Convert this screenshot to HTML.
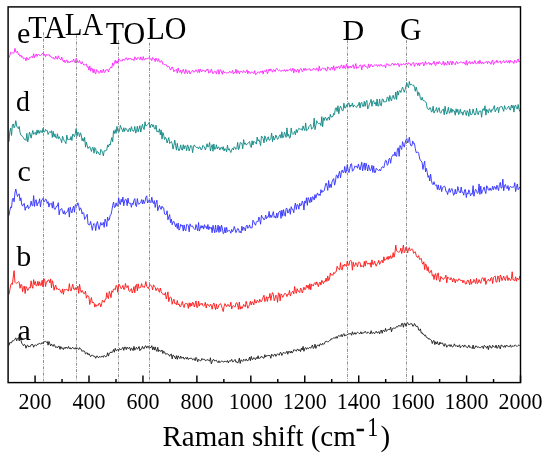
<!DOCTYPE html>
<html><head><meta charset="utf-8"><style>
html,body{margin:0;padding:0;background:#fff;}
svg{display:block;}
text{font-family:"Liberation Serif","Times New Roman",serif;fill:#000;}
</style></head><body>
<svg width="550" height="455" viewBox="0 0 550 455">
<rect width="550" height="455" fill="#fff"/>
<g stroke="#909090" stroke-width="1" stroke-dasharray="3 1.2 0.8 1.3">
<line x1="43.5" y1="32.4" x2="43.5" y2="381.5"/>
<line x1="76.5" y1="35.2" x2="76.5" y2="381.5"/>
<line x1="118.5" y1="40.3" x2="118.5" y2="381.5"/>
<line x1="149.5" y1="42.7" x2="149.5" y2="381.5"/>
<line x1="347.5" y1="40.2" x2="347.5" y2="381.5"/>
<line x1="406.5" y1="40.2" x2="406.5" y2="381.5"/>
</g>
<g font-size="30">
<text x="17" y="42.5">e</text>
<text transform="translate(28.3,37.6) scale(1,1.045)">TA</text>
<text transform="translate(64.7,34.5) scale(0.965,1.045)">LA</text>
<text transform="translate(105.8,43.5) scale(1,1.035)">TO</text>
<text transform="translate(146.5,38.6) scale(1,1.045)">LO</text>
<text x="342.6" y="40">D</text>
<text transform="translate(400,40.2) scale(1,1.04)">G</text>
<text transform="translate(16,111) scale(0.93,1)">d</text>
<text x="17.6" y="181">c</text>
<text x="16.3" y="266.3">b</text>
<text x="17.6" y="339.6">a</text>
</g>
<path d="M9.00,57.67 L9.85,55.48 L10.70,52.17 L11.55,52.98 L12.40,52.89 L13.25,53.24 L14.10,52.79 L14.95,48.29 L15.80,52.00 L16.65,52.53 L17.50,51.23 L18.35,54.56 L19.20,54.08 L20.05,56.38 L20.90,55.04 L21.75,57.32 L22.60,56.71 L23.45,58.80 L24.30,58.44 L25.15,58.02 L26.00,60.81 L26.85,57.40 L27.70,58.93 L28.55,59.82 L29.40,57.54 L30.25,57.30 L31.10,57.33 L31.95,56.24 L32.80,57.80 L33.65,53.73 L34.50,57.77 L35.35,55.95 L36.20,53.88 L37.05,56.42 L37.90,54.79 L38.75,54.29 L39.60,55.55 L40.45,55.50 L41.30,54.85 L42.15,53.59 L43.00,53.58 L43.85,55.53 L44.70,54.18 L45.55,56.76 L46.40,54.62 L47.25,54.84 L48.10,55.38 L48.95,54.41 L49.80,56.38 L50.65,55.94 L51.50,57.42 L52.35,58.23 L53.20,57.19 L54.05,59.01 L54.90,59.08 L55.75,56.13 L56.60,58.52 L57.45,59.16 L58.30,55.76 L59.15,58.12 L60.00,58.87 L60.85,59.89 L61.70,57.06 L62.55,59.73 L63.40,61.72 L64.25,60.05 L65.10,62.73 L65.95,61.03 L66.80,59.79 L67.65,62.68 L68.50,61.36 L69.35,63.00 L70.20,62.01 L71.05,60.83 L71.90,61.46 L72.75,61.36 L73.60,59.05 L74.45,61.46 L75.30,62.94 L76.15,58.27 L77.00,59.96 L77.85,62.49 L78.70,62.32 L79.55,60.43 L80.40,62.68 L81.25,64.04 L82.10,61.68 L82.95,63.50 L83.80,65.12 L84.65,64.88 L85.50,64.71 L86.35,64.03 L87.20,67.14 L88.05,66.47 L88.90,70.05 L89.75,65.91 L90.60,71.24 L91.45,67.92 L92.30,68.53 L93.15,72.77 L94.00,69.12 L94.85,72.57 L95.70,74.04 L96.55,69.59 L97.40,71.28 L98.25,71.18 L99.10,73.38 L99.95,72.54 L100.80,70.02 L101.65,72.54 L102.50,72.41 L103.35,69.18 L104.20,72.43 L105.05,72.17 L105.90,69.73 L106.75,69.82 L107.60,69.55 L108.45,72.00 L109.30,68.87 L110.15,68.48 L111.00,66.85 L111.85,67.84 L112.70,62.90 L113.55,65.60 L114.40,63.11 L115.25,60.24 L116.10,63.41 L116.95,60.88 L117.80,63.30 L118.65,58.67 L119.50,60.14 L120.35,60.75 L121.20,60.43 L122.05,61.25 L122.90,58.93 L123.75,59.77 L124.60,60.30 L125.45,58.37 L126.30,57.64 L127.15,59.75 L128.00,59.96 L128.85,58.13 L129.70,59.09 L130.55,58.05 L131.40,59.66 L132.25,59.68 L133.10,59.03 L133.95,60.63 L134.80,56.83 L135.65,57.78 L136.50,59.85 L137.35,57.86 L138.20,57.49 L139.05,58.32 L139.90,59.75 L140.75,56.86 L141.60,59.60 L142.45,60.11 L143.30,56.57 L144.15,59.67 L145.00,59.69 L145.85,58.15 L146.70,58.74 L147.55,58.94 L148.40,57.75 L149.25,58.78 L150.10,59.22 L150.95,58.68 L151.80,60.62 L152.65,57.50 L153.50,58.93 L154.35,59.00 L155.20,61.61 L156.05,58.03 L156.90,60.07 L157.75,61.40 L158.60,58.79 L159.45,61.84 L160.30,62.36 L161.15,60.65 L162.00,61.18 L162.85,64.36 L163.70,63.77 L164.55,64.73 L165.40,64.56 L166.25,64.71 L167.10,66.66 L167.95,66.76 L168.80,66.29 L169.65,67.95 L170.50,70.12 L171.35,67.96 L172.20,66.89 L173.05,68.93 L173.90,71.76 L174.75,70.21 L175.60,70.14 L176.45,69.27 L177.30,73.15 L178.15,67.97 L179.00,71.48 L179.85,72.24 L180.70,70.02 L181.55,73.50 L182.40,71.26 L183.25,69.25 L184.10,72.00 L184.95,73.71 L185.80,69.41 L186.65,71.73 L187.50,73.63 L188.35,71.04 L189.20,70.63 L190.05,74.00 L190.90,72.30 L191.75,71.43 L192.60,70.14 L193.45,71.89 L194.30,72.20 L195.15,70.83 L196.00,69.67 L196.85,71.61 L197.70,72.41 L198.55,69.42 L199.40,72.62 L200.25,68.99 L201.10,71.30 L201.95,71.70 L202.80,70.08 L203.65,70.60 L204.50,70.72 L205.35,72.10 L206.20,69.67 L207.05,70.45 L207.90,68.96 L208.75,73.23 L209.60,71.73 L210.45,72.16 L211.30,69.07 L212.15,71.29 L213.00,73.80 L213.85,72.51 L214.70,71.24 L215.55,71.61 L216.40,73.96 L217.25,70.36 L218.10,69.53 L218.95,74.28 L219.80,70.94 L220.65,69.59 L221.50,72.00 L222.35,74.32 L223.20,70.59 L224.05,72.61 L224.90,72.30 L225.75,72.44 L226.60,73.09 L227.45,72.84 L228.30,72.98 L229.15,71.92 L230.00,71.24 L230.85,72.74 L231.70,72.50 L232.55,70.43 L233.40,74.08 L234.25,72.41 L235.10,72.89 L235.95,69.21 L236.80,73.48 L237.65,70.58 L238.50,71.00 L239.35,73.96 L240.20,71.46 L241.05,71.29 L241.90,71.44 L242.75,72.66 L243.60,70.50 L244.45,71.51 L245.30,72.82 L246.15,71.88 L247.00,69.77 L247.85,73.95 L248.70,71.05 L249.55,72.21 L250.40,73.45 L251.25,72.07 L252.10,72.10 L252.95,72.48 L253.80,73.59 L254.65,70.56 L255.50,74.65 L256.35,74.27 L257.20,72.82 L258.05,71.69 L258.90,72.76 L259.75,73.12 L260.60,71.13 L261.45,72.44 L262.30,70.78 L263.15,74.05 L264.00,70.49 L264.85,71.09 L265.70,71.88 L266.55,69.54 L267.40,73.85 L268.25,71.68 L269.10,68.90 L269.95,71.14 L270.80,68.94 L271.65,70.51 L272.50,72.19 L273.35,69.50 L274.20,70.02 L275.05,71.68 L275.90,69.35 L276.75,68.31 L277.60,69.85 L278.45,70.69 L279.30,70.03 L280.15,70.39 L281.00,71.60 L281.85,70.28 L282.70,70.49 L283.55,71.07 L284.40,69.56 L285.25,71.36 L286.10,71.13 L286.95,69.56 L287.80,71.17 L288.65,70.34 L289.50,69.28 L290.35,68.62 L291.20,71.15 L292.05,70.66 L292.90,68.10 L293.75,72.92 L294.60,69.10 L295.45,70.12 L296.30,72.11 L297.15,69.69 L298.00,69.34 L298.85,72.71 L299.70,70.00 L300.55,68.57 L301.40,69.04 L302.25,71.79 L303.10,70.67 L303.95,68.37 L304.80,70.52 L305.65,68.45 L306.50,70.24 L307.35,69.80 L308.20,68.96 L309.05,69.29 L309.90,68.64 L310.75,70.88 L311.60,69.89 L312.45,70.12 L313.30,68.49 L314.15,68.78 L315.00,69.19 L315.85,70.29 L316.70,68.05 L317.55,68.85 L318.40,71.24 L319.25,66.08 L320.10,70.15 L320.95,70.42 L321.80,68.63 L322.65,67.94 L323.50,68.98 L324.35,69.21 L325.20,68.10 L326.05,70.88 L326.90,70.76 L327.75,66.82 L328.60,67.75 L329.45,69.18 L330.30,70.21 L331.15,67.76 L332.00,67.12 L332.85,69.50 L333.70,65.79 L334.55,70.58 L335.40,68.43 L336.25,66.67 L337.10,68.34 L337.95,67.00 L338.80,66.45 L339.65,68.69 L340.50,67.30 L341.35,64.86 L342.20,66.54 L343.05,68.48 L343.90,65.25 L344.75,68.03 L345.60,68.70 L346.45,63.94 L347.30,67.03 L348.15,68.42 L349.00,66.11 L349.85,67.70 L350.70,66.05 L351.55,67.88 L352.40,65.48 L353.25,64.68 L354.10,68.67 L354.95,66.71 L355.80,63.57 L356.65,68.56 L357.50,67.26 L358.35,67.85 L359.20,66.42 L360.05,64.85 L360.90,65.31 L361.75,69.91 L362.60,65.44 L363.45,66.27 L364.30,64.49 L365.15,66.51 L366.00,66.20 L366.85,67.55 L367.70,68.28 L368.55,63.90 L369.40,67.82 L370.25,66.07 L371.10,64.25 L371.95,65.48 L372.80,67.01 L373.65,65.75 L374.50,64.76 L375.35,65.45 L376.20,64.53 L377.05,66.02 L377.90,66.24 L378.75,64.70 L379.60,66.29 L380.45,64.52 L381.30,64.63 L382.15,66.20 L383.00,65.92 L383.85,65.39 L384.70,65.22 L385.55,67.96 L386.40,63.73 L387.25,64.35 L388.10,64.13 L388.95,65.80 L389.80,64.96 L390.65,65.52 L391.50,64.80 L392.35,63.02 L393.20,64.05 L394.05,65.37 L394.90,63.55 L395.75,64.27 L396.60,64.89 L397.45,63.48 L398.30,63.51 L399.15,66.70 L400.00,64.78 L400.85,63.69 L401.70,65.31 L402.55,64.46 L403.40,63.67 L404.25,64.03 L405.10,64.97 L405.95,63.15 L406.80,63.29 L407.65,64.55 L408.50,62.69 L409.35,63.80 L410.20,63.62 L411.05,65.79 L411.90,63.98 L412.75,62.83 L413.60,62.34 L414.45,66.46 L415.30,64.25 L416.15,63.14 L417.00,63.38 L417.85,65.43 L418.70,62.91 L419.55,65.83 L420.40,63.00 L421.25,63.78 L422.10,62.59 L422.95,62.63 L423.80,65.97 L424.65,64.13 L425.50,61.32 L426.35,64.08 L427.20,63.85 L428.05,63.44 L428.90,62.27 L429.75,64.63 L430.60,63.05 L431.45,65.26 L432.30,63.16 L433.15,63.37 L434.00,61.21 L434.85,64.68 L435.70,65.67 L436.55,62.21 L437.40,62.11 L438.25,64.02 L439.10,61.33 L439.95,62.81 L440.80,63.43 L441.65,64.81 L442.50,63.47 L443.35,61.25 L444.20,65.43 L445.05,62.47 L445.90,64.24 L446.75,65.18 L447.60,61.00 L448.45,62.64 L449.30,64.95 L450.15,61.39 L451.00,61.48 L451.85,64.96 L452.70,61.15 L453.55,63.14 L454.40,63.73 L455.25,64.74 L456.10,61.98 L456.95,61.57 L457.80,63.72 L458.65,62.89 L459.50,62.50 L460.35,62.39 L461.20,61.67 L462.05,62.85 L462.90,63.06 L463.75,61.82 L464.60,63.93 L465.45,64.70 L466.30,60.46 L467.15,65.25 L468.00,62.67 L468.85,62.97 L469.70,61.39 L470.55,64.10 L471.40,62.27 L472.25,61.91 L473.10,63.97 L473.95,63.12 L474.80,60.48 L475.65,63.40 L476.50,64.00 L477.35,62.86 L478.20,61.24 L479.05,63.79 L479.90,60.19 L480.75,63.24 L481.60,63.88 L482.45,61.86 L483.30,63.65 L484.15,63.13 L485.00,62.42 L485.85,62.07 L486.70,61.45 L487.55,63.68 L488.40,61.29 L489.25,62.32 L490.10,62.31 L490.95,64.34 L491.80,61.20 L492.65,59.93 L493.50,64.71 L494.35,63.27 L495.20,61.50 L496.05,62.52 L496.90,60.09 L497.75,62.83 L498.60,62.01 L499.45,61.51 L500.30,60.91 L501.15,63.65 L502.00,62.27 L502.85,61.48 L503.70,60.65 L504.55,63.01 L505.40,61.71 L506.25,60.50 L507.10,62.29 L507.95,62.64 L508.80,60.45 L509.65,63.19 L510.50,60.18 L511.35,61.98 L512.20,61.86 L513.05,61.73 L513.90,63.46 L514.75,60.16 L515.60,61.24 L516.45,62.65 L517.30,60.20 L518.15,58.92 L519.00,62.06 L519.85,61.29" fill="none" stroke="#ff2bff" stroke-width="0.95" stroke-linejoin="round"/>
<path d="M9.00,141.73 L9.85,131.37 L10.70,128.00 L11.55,135.46 L12.40,125.11 L13.25,123.93 L14.10,127.82 L14.95,125.97 L15.80,120.66 L16.65,126.06 L17.50,127.65 L18.35,128.68 L19.20,126.37 L20.05,132.58 L20.90,135.16 L21.75,135.59 L22.60,136.75 L23.45,137.64 L24.30,139.51 L25.15,139.40 L26.00,140.49 L26.85,133.36 L27.70,141.88 L28.55,138.33 L29.40,132.09 L30.25,134.16 L31.10,138.15 L31.95,134.07 L32.80,130.46 L33.65,134.36 L34.50,132.90 L35.35,132.27 L36.20,135.07 L37.05,129.94 L37.90,133.48 L38.75,130.32 L39.60,133.31 L40.45,130.77 L41.30,130.84 L42.15,132.78 L43.00,128.32 L43.85,132.12 L44.70,131.88 L45.55,129.36 L46.40,130.80 L47.25,130.63 L48.10,134.48 L48.95,132.72 L49.80,131.56 L50.65,132.54 L51.50,130.66 L52.35,137.44 L53.20,131.26 L54.05,136.88 L54.90,133.77 L55.75,137.69 L56.60,138.21 L57.45,133.78 L58.30,138.86 L59.15,136.70 L60.00,138.68 L60.85,139.40 L61.70,142.66 L62.55,136.22 L63.40,138.61 L64.25,140.93 L65.10,141.87 L65.95,143.65 L66.80,135.10 L67.65,139.62 L68.50,139.57 L69.35,138.90 L70.20,139.91 L71.05,136.51 L71.90,140.50 L72.75,133.96 L73.60,135.06 L74.45,136.74 L75.30,133.63 L76.15,128.55 L77.00,136.27 L77.85,132.06 L78.70,132.90 L79.55,136.76 L80.40,132.82 L81.25,135.14 L82.10,140.80 L82.95,138.26 L83.80,141.35 L84.65,137.32 L85.50,147.18 L86.35,142.13 L87.20,145.37 L88.05,148.57 L88.90,147.13 L89.75,146.59 L90.60,149.18 L91.45,151.47 L92.30,147.60 L93.15,147.34 L94.00,153.19 L94.85,147.62 L95.70,148.60 L96.55,153.93 L97.40,151.50 L98.25,152.07 L99.10,154.13 L99.95,155.09 L100.80,149.35 L101.65,150.31 L102.50,152.42 L103.35,155.93 L104.20,150.83 L105.05,150.76 L105.90,150.65 L106.75,150.08 L107.60,144.92 L108.45,146.96 L109.30,143.98 L110.15,145.18 L111.00,140.88 L111.85,137.55 L112.70,141.81 L113.55,130.72 L114.40,133.50 L115.25,129.72 L116.10,133.38 L116.95,126.35 L117.80,130.95 L118.65,132.50 L119.50,130.80 L120.35,125.32 L121.20,127.75 L122.05,129.62 L122.90,131.87 L123.75,127.79 L124.60,131.46 L125.45,128.21 L126.30,128.66 L127.15,130.28 L128.00,131.85 L128.85,129.30 L129.70,128.05 L130.55,131.50 L131.40,126.67 L132.25,129.65 L133.10,131.28 L133.95,130.98 L134.80,126.43 L135.65,133.09 L136.50,131.44 L137.35,126.15 L138.20,131.87 L139.05,128.91 L139.90,125.57 L140.75,132.10 L141.60,127.88 L142.45,124.26 L143.30,128.12 L144.15,129.64 L145.00,121.78 L145.85,126.08 L146.70,125.63 L147.55,124.56 L148.40,124.04 L149.25,122.33 L150.10,127.75 L150.95,125.10 L151.80,124.02 L152.65,126.80 L153.50,124.84 L154.35,128.70 L155.20,129.20 L156.05,125.16 L156.90,131.89 L157.75,131.20 L158.60,132.24 L159.45,128.82 L160.30,134.83 L161.15,129.85 L162.00,139.18 L162.85,132.41 L163.70,135.28 L164.55,139.59 L165.40,137.22 L166.25,138.92 L167.10,143.00 L167.95,140.12 L168.80,137.59 L169.65,143.52 L170.50,142.45 L171.35,141.47 L172.20,143.69 L173.05,149.08 L173.90,145.41 L174.75,140.16 L175.60,145.23 L176.45,150.08 L177.30,143.27 L178.15,148.59 L179.00,150.86 L179.85,148.96 L180.70,144.89 L181.55,149.63 L182.40,150.09 L183.25,144.69 L184.10,148.96 L184.95,145.64 L185.80,146.15 L186.65,150.82 L187.50,144.86 L188.35,146.47 L189.20,150.93 L190.05,147.76 L190.90,145.39 L191.75,146.42 L192.60,152.69 L193.45,147.00 L194.30,144.92 L195.15,146.31 L196.00,147.03 L196.85,147.66 L197.70,147.31 L198.55,149.06 L199.40,146.81 L200.25,147.25 L201.10,150.03 L201.95,149.15 L202.80,145.33 L203.65,146.06 L204.50,147.03 L205.35,150.03 L206.20,147.35 L207.05,143.73 L207.90,147.10 L208.75,146.48 L209.60,142.41 L210.45,151.06 L211.30,147.28 L212.15,144.61 L213.00,151.28 L213.85,143.95 L214.70,149.50 L215.55,148.81 L216.40,144.78 L217.25,148.81 L218.10,147.05 L218.95,147.18 L219.80,150.04 L220.65,148.00 L221.50,147.05 L222.35,149.38 L223.20,146.64 L224.05,151.03 L224.90,148.50 L225.75,149.28 L226.60,151.87 L227.45,145.18 L228.30,150.14 L229.15,148.65 L230.00,150.92 L230.85,152.50 L231.70,149.48 L232.55,148.18 L233.40,149.99 L234.25,146.77 L235.10,147.64 L235.95,149.43 L236.80,148.55 L237.65,142.37 L238.50,149.66 L239.35,147.94 L240.20,142.59 L241.05,143.05 L241.90,143.35 L242.75,148.86 L243.60,139.57 L244.45,144.33 L245.30,142.92 L246.15,144.91 L247.00,144.09 L247.85,143.59 L248.70,142.67 L249.55,141.60 L250.40,145.73 L251.25,147.54 L252.10,140.74 L252.95,145.05 L253.80,141.26 L254.65,142.19 L255.50,142.52 L256.35,144.11 L257.20,137.01 L258.05,141.14 L258.90,139.63 L259.75,142.27 L260.60,145.60 L261.45,136.02 L262.30,137.10 L263.15,138.54 L264.00,142.97 L264.85,135.86 L265.70,138.23 L266.55,141.47 L267.40,138.22 L268.25,136.75 L269.10,140.15 L269.95,139.92 L270.80,138.46 L271.65,133.05 L272.50,141.73 L273.35,135.94 L274.20,140.03 L275.05,138.26 L275.90,135.02 L276.75,137.35 L277.60,139.43 L278.45,138.22 L279.30,135.80 L280.15,134.60 L281.00,138.15 L281.85,131.77 L282.70,137.80 L283.55,137.16 L284.40,132.21 L285.25,134.25 L286.10,137.43 L286.95,127.87 L287.80,136.24 L288.65,134.31 L289.50,138.19 L290.35,137.46 L291.20,127.94 L292.05,133.41 L292.90,134.56 L293.75,133.71 L294.60,131.33 L295.45,134.86 L296.30,129.52 L297.15,132.60 L298.00,129.85 L298.85,128.26 L299.70,128.98 L300.55,129.15 L301.40,128.83 L302.25,130.37 L303.10,125.92 L303.95,128.88 L304.80,130.57 L305.65,122.91 L306.50,130.73 L307.35,129.90 L308.20,129.24 L309.05,126.37 L309.90,125.26 L310.75,124.44 L311.60,129.27 L312.45,128.06 L313.30,127.15 L314.15,118.13 L315.00,129.65 L315.85,125.49 L316.70,120.75 L317.55,122.72 L318.40,123.53 L319.25,123.40 L320.10,123.20 L320.95,125.62 L321.80,116.66 L322.65,126.82 L323.50,117.82 L324.35,120.45 L325.20,117.22 L326.05,118.31 L326.90,120.55 L327.75,118.12 L328.60,116.96 L329.45,120.14 L330.30,114.33 L331.15,117.19 L332.00,116.39 L332.85,116.75 L333.70,113.25 L334.55,114.56 L335.40,108.18 L336.25,107.73 L337.10,111.57 L337.95,105.77 L338.80,113.80 L339.65,108.39 L340.50,106.12 L341.35,108.12 L342.20,110.52 L343.05,110.89 L343.90,103.18 L344.75,107.97 L345.60,107.96 L346.45,104.77 L347.30,106.76 L348.15,103.21 L349.00,102.85 L349.85,107.25 L350.70,105.01 L351.55,106.10 L352.40,102.95 L353.25,107.19 L354.10,105.09 L354.95,105.67 L355.80,106.74 L356.65,107.45 L357.50,105.27 L358.35,105.46 L359.20,102.18 L360.05,108.10 L360.90,103.07 L361.75,102.38 L362.60,106.31 L363.45,106.48 L364.30,101.40 L365.15,106.36 L366.00,102.03 L366.85,100.37 L367.70,109.00 L368.55,107.54 L369.40,103.99 L370.25,102.36 L371.10,99.30 L371.95,106.37 L372.80,101.32 L373.65,100.70 L374.50,103.92 L375.35,102.56 L376.20,106.01 L377.05,98.98 L377.90,106.15 L378.75,105.84 L379.60,99.23 L380.45,105.12 L381.30,105.89 L382.15,99.27 L383.00,99.04 L383.85,102.08 L384.70,101.80 L385.55,101.68 L386.40,101.58 L387.25,97.11 L388.10,97.31 L388.95,101.45 L389.80,95.44 L390.65,98.91 L391.50,100.97 L392.35,96.67 L393.20,95.24 L394.05,98.83 L394.90,98.92 L395.75,92.12 L396.60,99.53 L397.45,90.85 L398.30,95.13 L399.15,91.33 L400.00,90.52 L400.85,92.55 L401.70,89.38 L402.55,87.08 L403.40,89.43 L404.25,92.28 L405.10,89.67 L405.95,86.10 L406.80,82.70 L407.65,85.77 L408.50,87.66 L409.35,81.45 L410.20,85.07 L411.05,84.27 L411.90,84.49 L412.75,85.49 L413.60,85.03 L414.45,87.14 L415.30,91.29 L416.15,87.04 L417.00,90.24 L417.85,95.76 L418.70,92.27 L419.55,94.07 L420.40,98.60 L421.25,100.14 L422.10,97.29 L422.95,100.35 L423.80,100.67 L424.65,100.88 L425.50,101.76 L426.35,103.10 L427.20,108.41 L428.05,109.05 L428.90,109.72 L429.75,107.62 L430.60,108.01 L431.45,112.16 L432.30,111.07 L433.15,106.17 L434.00,113.13 L434.85,111.03 L435.70,109.88 L436.55,107.50 L437.40,112.37 L438.25,109.28 L439.10,107.65 L439.95,112.25 L440.80,113.23 L441.65,111.21 L442.50,109.66 L443.35,108.99 L444.20,114.79 L445.05,106.19 L445.90,111.71 L446.75,114.18 L447.60,110.87 L448.45,107.30 L449.30,113.27 L450.15,112.63 L451.00,108.36 L451.85,112.52 L452.70,109.22 L453.55,111.19 L454.40,111.09 L455.25,115.26 L456.10,108.82 L456.95,112.42 L457.80,109.33 L458.65,114.59 L459.50,112.50 L460.35,109.20 L461.20,113.33 L462.05,112.11 L462.90,115.20 L463.75,111.76 L464.60,110.10 L465.45,112.63 L466.30,115.43 L467.15,110.60 L468.00,112.29 L468.85,116.36 L469.70,108.84 L470.55,114.06 L471.40,115.09 L472.25,113.42 L473.10,108.92 L473.95,112.89 L474.80,115.00 L475.65,114.51 L476.50,108.26 L477.35,112.52 L478.20,114.66 L479.05,111.27 L479.90,111.21 L480.75,110.93 L481.60,117.29 L482.45,109.94 L483.30,108.56 L484.15,110.68 L485.00,105.78 L485.85,115.20 L486.70,109.26 L487.55,110.91 L488.40,113.04 L489.25,108.74 L490.10,110.07 L490.95,112.39 L491.80,109.62 L492.65,110.19 L493.50,107.87 L494.35,105.65 L495.20,111.91 L496.05,110.11 L496.90,108.14 L497.75,107.09 L498.60,112.78 L499.45,107.36 L500.30,106.98 L501.15,106.72 L502.00,106.50 L502.85,109.15 L503.70,111.35 L504.55,105.68 L505.40,108.38 L506.25,109.51 L507.10,108.58 L507.95,107.24 L508.80,106.13 L509.65,109.46 L510.50,110.00 L511.35,105.08 L512.20,108.01 L513.05,105.30 L513.90,112.12 L514.75,105.99 L515.60,104.94 L516.45,108.38 L517.30,109.03 L518.15,104.48 L519.00,109.24 L519.85,111.51" fill="none" stroke="#138a86" stroke-width="0.95" stroke-linejoin="round"/>
<path d="M9.00,215.50 L9.85,210.42 L10.70,206.83 L11.55,207.74 L12.40,199.07 L13.25,198.05 L14.10,201.81 L14.95,192.89 L15.80,189.00 L16.65,193.46 L17.50,196.53 L18.35,194.37 L19.20,193.82 L20.05,200.80 L20.90,197.77 L21.75,204.82 L22.60,206.14 L23.45,204.00 L24.30,203.39 L25.15,210.33 L26.00,206.93 L26.85,207.39 L27.70,204.98 L28.55,208.70 L29.40,207.35 L30.25,206.28 L31.10,201.08 L31.95,205.28 L32.80,205.86 L33.65,195.59 L34.50,206.47 L35.35,200.29 L36.20,199.71 L37.05,205.96 L37.90,202.77 L38.75,202.94 L39.60,198.78 L40.45,206.90 L41.30,201.01 L42.15,199.78 L43.00,198.27 L43.85,202.03 L44.70,201.05 L45.55,199.09 L46.40,199.66 L47.25,203.42 L48.10,201.65 L48.95,207.08 L49.80,203.33 L50.65,203.90 L51.50,203.23 L52.35,208.14 L53.20,201.53 L54.05,208.14 L54.90,209.58 L55.75,208.05 L56.60,205.99 L57.45,206.07 L58.30,202.71 L59.15,214.86 L60.00,209.80 L60.85,209.47 L61.70,208.42 L62.55,211.57 L63.40,213.88 L64.25,210.69 L65.10,214.42 L65.95,212.52 L66.80,212.19 L67.65,211.25 L68.50,207.85 L69.35,217.09 L70.20,207.14 L71.05,210.78 L71.90,212.98 L72.75,208.52 L73.60,206.08 L74.45,212.22 L75.30,204.73 L76.15,204.80 L77.00,205.86 L77.85,202.78 L78.70,205.43 L79.55,210.42 L80.40,207.82 L81.25,209.24 L82.10,214.05 L82.95,212.30 L83.80,213.46 L84.65,219.38 L85.50,217.77 L86.35,216.25 L87.20,214.31 L88.05,224.19 L88.90,224.75 L89.75,225.03 L90.60,221.43 L91.45,225.44 L92.30,230.37 L93.15,225.36 L94.00,223.43 L94.85,224.43 L95.70,230.61 L96.55,224.16 L97.40,221.59 L98.25,225.47 L99.10,229.46 L99.95,226.05 L100.80,222.45 L101.65,225.04 L102.50,224.75 L103.35,222.35 L104.20,227.36 L105.05,219.07 L105.90,221.29 L106.75,226.47 L107.60,217.04 L108.45,220.43 L109.30,219.87 L110.15,215.22 L111.00,214.70 L111.85,210.47 L112.70,205.46 L113.55,201.99 L114.40,207.53 L115.25,207.04 L116.10,202.89 L116.95,205.94 L117.80,205.80 L118.65,197.75 L119.50,203.05 L120.35,204.57 L121.20,199.26 L122.05,202.16 L122.90,197.04 L123.75,205.78 L124.60,201.07 L125.45,199.20 L126.30,199.76 L127.15,205.70 L128.00,198.02 L128.85,203.21 L129.70,203.37 L130.55,203.27 L131.40,207.30 L132.25,202.95 L133.10,204.53 L133.95,200.20 L134.80,198.61 L135.65,205.00 L136.50,206.55 L137.35,198.58 L138.20,203.81 L139.05,204.28 L139.90,203.03 L140.75,202.42 L141.60,199.57 L142.45,204.03 L143.30,199.86 L144.15,203.67 L145.00,201.60 L145.85,197.32 L146.70,195.82 L147.55,203.06 L148.40,201.61 L149.25,199.58 L150.10,201.62 L150.95,202.71 L151.80,197.15 L152.65,201.99 L153.50,203.59 L154.35,200.60 L155.20,207.46 L156.05,202.89 L156.90,200.16 L157.75,210.78 L158.60,207.82 L159.45,205.29 L160.30,207.93 L161.15,209.44 L162.00,206.16 L162.85,207.87 L163.70,207.90 L164.55,214.00 L165.40,214.53 L166.25,214.45 L167.10,210.81 L167.95,219.80 L168.80,216.85 L169.65,214.56 L170.50,222.66 L171.35,219.01 L172.20,224.81 L173.05,221.87 L173.90,221.48 L174.75,223.93 L175.60,226.78 L176.45,223.70 L177.30,228.51 L178.15,223.00 L179.00,230.13 L179.85,228.47 L180.70,224.32 L181.55,226.14 L182.40,225.14 L183.25,231.09 L184.10,224.88 L184.95,229.50 L185.80,230.80 L186.65,224.38 L187.50,224.69 L188.35,225.70 L189.20,231.77 L190.05,223.82 L190.90,226.21 L191.75,226.29 L192.60,225.95 L193.45,228.11 L194.30,228.73 L195.15,229.78 L196.00,224.56 L196.85,227.64 L197.70,230.81 L198.55,222.48 L199.40,231.07 L200.25,228.50 L201.10,225.53 L201.95,228.13 L202.80,225.81 L203.65,229.10 L204.50,224.69 L205.35,227.37 L206.20,226.42 L207.05,229.18 L207.90,224.53 L208.75,229.66 L209.60,226.80 L210.45,228.37 L211.30,227.23 L212.15,232.78 L213.00,225.30 L213.85,229.21 L214.70,232.77 L215.55,225.14 L216.40,232.18 L217.25,230.62 L218.10,225.06 L218.95,232.47 L219.80,226.28 L220.65,231.52 L221.50,225.13 L222.35,228.15 L223.20,233.61 L224.05,232.97 L224.90,227.50 L225.75,232.97 L226.60,227.34 L227.45,231.70 L228.30,231.14 L229.15,230.19 L230.00,231.23 L230.85,233.28 L231.70,229.38 L232.55,231.83 L233.40,230.35 L234.25,226.49 L235.10,229.16 L235.95,232.62 L236.80,230.77 L237.65,228.43 L238.50,228.97 L239.35,232.42 L240.20,231.30 L241.05,233.00 L241.90,226.24 L242.75,230.44 L243.60,227.07 L244.45,228.19 L245.30,230.88 L246.15,226.20 L247.00,225.05 L247.85,228.37 L248.70,227.40 L249.55,224.87 L250.40,227.95 L251.25,227.81 L252.10,227.90 L252.95,220.18 L253.80,221.69 L254.65,223.84 L255.50,225.24 L256.35,222.06 L257.20,221.19 L258.05,221.76 L258.90,216.99 L259.75,219.85 L260.60,224.26 L261.45,215.25 L262.30,217.64 L263.15,217.90 L264.00,220.01 L264.85,219.15 L265.70,215.04 L266.55,218.72 L267.40,216.83 L268.25,217.02 L269.10,211.49 L269.95,217.74 L270.80,214.86 L271.65,217.42 L272.50,214.38 L273.35,211.59 L274.20,217.48 L275.05,216.27 L275.90,218.19 L276.75,213.01 L277.60,217.72 L278.45,212.94 L279.30,211.70 L280.15,210.87 L281.00,218.42 L281.85,210.17 L282.70,216.29 L283.55,209.66 L284.40,214.30 L285.25,216.27 L286.10,208.45 L286.95,208.33 L287.80,213.12 L288.65,211.93 L289.50,208.76 L290.35,214.29 L291.20,206.70 L292.05,209.43 L292.90,209.29 L293.75,212.81 L294.60,206.29 L295.45,203.12 L296.30,209.47 L297.15,204.59 L298.00,204.98 L298.85,209.21 L299.70,203.29 L300.55,205.94 L301.40,204.97 L302.25,200.97 L303.10,203.11 L303.95,210.07 L304.80,200.94 L305.65,203.14 L306.50,197.73 L307.35,205.36 L308.20,197.59 L309.05,199.78 L309.90,202.74 L310.75,197.22 L311.60,202.09 L312.45,196.65 L313.30,197.30 L314.15,200.05 L315.00,194.50 L315.85,198.19 L316.70,195.07 L317.55,192.94 L318.40,195.38 L319.25,194.17 L320.10,195.71 L320.95,189.62 L321.80,192.64 L322.65,190.60 L323.50,191.44 L324.35,190.29 L325.20,186.07 L326.05,183.08 L326.90,185.51 L327.75,190.43 L328.60,180.52 L329.45,187.51 L330.30,184.26 L331.15,187.68 L332.00,181.85 L332.85,179.89 L333.70,178.55 L334.55,185.20 L335.40,181.86 L336.25,175.22 L337.10,175.36 L337.95,178.29 L338.80,174.05 L339.65,171.30 L340.50,177.84 L341.35,172.67 L342.20,169.99 L343.05,172.61 L343.90,172.29 L344.75,166.41 L345.60,173.08 L346.45,171.24 L347.30,164.49 L348.15,170.31 L349.00,172.52 L349.85,168.27 L350.70,164.22 L351.55,163.73 L352.40,171.27 L353.25,170.35 L354.10,168.56 L354.95,165.80 L355.80,166.78 L356.65,166.23 L357.50,168.24 L358.35,163.96 L359.20,167.13 L360.05,169.93 L360.90,165.91 L361.75,162.22 L362.60,170.82 L363.45,166.00 L364.30,162.94 L365.15,170.21 L366.00,163.20 L366.85,166.44 L367.70,170.99 L368.55,164.90 L369.40,168.10 L370.25,170.90 L371.10,169.27 L371.95,165.38 L372.80,172.43 L373.65,165.90 L374.50,172.53 L375.35,172.58 L376.20,168.31 L377.05,169.12 L377.90,169.98 L378.75,170.71 L379.60,169.36 L380.45,171.01 L381.30,168.61 L382.15,166.70 L383.00,167.34 L383.85,167.85 L384.70,163.21 L385.55,160.30 L386.40,160.79 L387.25,165.28 L388.10,164.44 L388.95,158.80 L389.80,158.44 L390.65,163.23 L391.50,157.35 L392.35,155.73 L393.20,154.55 L394.05,155.84 L394.90,151.89 L395.75,155.85 L396.60,156.42 L397.45,149.01 L398.30,147.78 L399.15,156.31 L400.00,145.45 L400.85,147.40 L401.70,149.45 L402.55,141.64 L403.40,144.46 L404.25,147.17 L405.10,143.01 L405.95,140.00 L406.80,138.59 L407.65,142.97 L408.50,141.42 L409.35,137.15 L410.20,143.54 L411.05,145.91 L411.90,145.75 L412.75,140.97 L413.60,143.66 L414.45,143.38 L415.30,148.51 L416.15,152.64 L417.00,152.51 L417.85,151.87 L418.70,153.35 L419.55,158.06 L420.40,160.45 L421.25,161.04 L422.10,162.58 L422.95,169.44 L423.80,164.81 L424.65,161.14 L425.50,171.75 L426.35,168.37 L427.20,172.25 L428.05,177.35 L428.90,175.57 L429.75,181.02 L430.60,174.09 L431.45,180.85 L432.30,183.85 L433.15,184.74 L434.00,181.69 L434.85,184.38 L435.70,185.58 L436.55,184.91 L437.40,189.50 L438.25,184.85 L439.10,189.83 L439.95,189.41 L440.80,185.55 L441.65,191.63 L442.50,187.84 L443.35,186.83 L444.20,186.12 L445.05,186.74 L445.90,191.37 L446.75,191.33 L447.60,194.61 L448.45,190.84 L449.30,188.45 L450.15,192.38 L451.00,190.18 L451.85,188.45 L452.70,191.18 L453.55,195.27 L454.40,194.48 L455.25,189.23 L456.10,193.98 L456.95,192.41 L457.80,186.64 L458.65,190.29 L459.50,192.15 L460.35,192.99 L461.20,186.99 L462.05,192.33 L462.90,192.24 L463.75,195.20 L464.60,189.75 L465.45,189.53 L466.30,197.54 L467.15,192.83 L468.00,194.07 L468.85,189.80 L469.70,192.68 L470.55,195.90 L471.40,193.56 L472.25,194.25 L473.10,185.64 L473.95,196.30 L474.80,191.66 L475.65,189.31 L476.50,190.62 L477.35,193.43 L478.20,192.65 L479.05,183.94 L479.90,194.49 L480.75,186.03 L481.60,193.62 L482.45,191.27 L483.30,189.09 L484.15,186.94 L485.00,191.15 L485.85,193.55 L486.70,185.71 L487.55,187.08 L488.40,190.05 L489.25,190.22 L490.10,187.90 L490.95,190.51 L491.80,189.96 L492.65,186.18 L493.50,189.77 L494.35,186.44 L495.20,186.96 L496.05,189.52 L496.90,185.23 L497.75,187.84 L498.60,190.56 L499.45,184.44 L500.30,182.42 L501.15,188.13 L502.00,187.77 L502.85,179.09 L503.70,190.77 L504.55,185.55 L505.40,184.48 L506.25,187.45 L507.10,188.70 L507.95,185.54 L508.80,190.52 L509.65,187.41 L510.50,186.29 L511.35,187.36 L512.20,187.20 L513.05,187.25 L513.90,186.95 L514.75,182.68 L515.60,191.56 L516.45,187.66 L517.30,183.96 L518.15,189.75 L519.00,188.55 L519.85,186.98" fill="none" stroke="#3636ff" stroke-width="0.95" stroke-linejoin="round"/>
<path d="M9.00,294.42 L9.85,289.96 L10.70,285.05 L11.55,283.33 L12.40,284.44 L13.25,277.13 L14.10,270.65 L14.95,282.34 L15.80,283.19 L16.65,283.18 L17.50,282.63 L18.35,281.65 L19.20,282.34 L20.05,288.25 L20.90,284.35 L21.75,284.92 L22.60,291.73 L23.45,287.27 L24.30,286.04 L25.15,293.55 L26.00,286.54 L26.85,287.98 L27.70,290.49 L28.55,289.09 L29.40,287.23 L30.25,287.98 L31.10,280.81 L31.95,286.04 L32.80,288.31 L33.65,279.66 L34.50,284.55 L35.35,281.48 L36.20,286.01 L37.05,285.50 L37.90,281.22 L38.75,285.76 L39.60,281.74 L40.45,285.34 L41.30,285.18 L42.15,280.21 L43.00,286.94 L43.85,278.63 L44.70,279.79 L45.55,286.46 L46.40,281.88 L47.25,281.87 L48.10,279.98 L48.95,280.02 L49.80,282.89 L50.65,278.91 L51.50,287.88 L52.35,280.71 L53.20,283.55 L54.05,290.31 L54.90,286.89 L55.75,285.02 L56.60,289.26 L57.45,288.47 L58.30,289.72 L59.15,288.78 L60.00,289.90 L60.85,292.30 L61.70,293.04 L62.55,288.85 L63.40,294.33 L64.25,289.45 L65.10,289.84 L65.95,289.91 L66.80,289.14 L67.65,290.59 L68.50,291.03 L69.35,283.67 L70.20,289.54 L71.05,291.14 L71.90,287.31 L72.75,284.15 L73.60,289.17 L74.45,289.88 L75.30,287.57 L76.15,289.84 L77.00,288.59 L77.85,286.14 L78.70,293.35 L79.55,284.22 L80.40,289.47 L81.25,292.40 L82.10,290.39 L82.95,291.92 L83.80,293.75 L84.65,293.51 L85.50,291.13 L86.35,298.16 L87.20,295.85 L88.05,295.57 L88.90,296.89 L89.75,304.49 L90.60,300.56 L91.45,297.54 L92.30,303.10 L93.15,302.08 L94.00,303.01 L94.85,307.15 L95.70,304.40 L96.55,306.29 L97.40,304.85 L98.25,305.46 L99.10,303.08 L99.95,303.49 L100.80,306.85 L101.65,303.72 L102.50,300.18 L103.35,301.23 L104.20,302.34 L105.05,299.58 L105.90,299.30 L106.75,292.69 L107.60,297.28 L108.45,298.60 L109.30,291.42 L110.15,294.08 L111.00,297.67 L111.85,290.80 L112.70,292.25 L113.55,289.06 L114.40,289.07 L115.25,289.82 L116.10,285.31 L116.95,286.11 L117.80,292.33 L118.65,284.41 L119.50,284.57 L120.35,287.14 L121.20,288.78 L122.05,287.49 L122.90,285.41 L123.75,289.42 L124.60,289.19 L125.45,283.49 L126.30,287.09 L127.15,287.71 L128.00,285.56 L128.85,290.60 L129.70,291.56 L130.55,289.87 L131.40,288.59 L132.25,292.97 L133.10,290.40 L133.95,286.61 L134.80,292.71 L135.65,285.79 L136.50,284.30 L137.35,290.77 L138.20,283.87 L139.05,288.33 L139.90,287.43 L140.75,287.32 L141.60,283.59 L142.45,286.96 L143.30,286.37 L144.15,287.65 L145.00,285.38 L145.85,281.52 L146.70,286.42 L147.55,287.04 L148.40,288.63 L149.25,286.32 L150.10,284.65 L150.95,285.67 L151.80,286.34 L152.65,289.95 L153.50,284.82 L154.35,286.41 L155.20,287.34 L156.05,290.68 L156.90,288.56 L157.75,287.97 L158.60,290.65 L159.45,292.29 L160.30,288.03 L161.15,291.42 L162.00,293.37 L162.85,294.20 L163.70,293.99 L164.55,295.12 L165.40,292.48 L166.25,299.03 L167.10,295.87 L167.95,291.83 L168.80,301.62 L169.65,297.67 L170.50,296.98 L171.35,297.96 L172.20,304.30 L173.05,301.09 L173.90,299.17 L174.75,303.53 L175.60,303.26 L176.45,304.77 L177.30,300.49 L178.15,304.90 L179.00,303.89 L179.85,306.70 L180.70,306.52 L181.55,303.67 L182.40,301.45 L183.25,305.64 L184.10,307.51 L184.95,303.85 L185.80,303.35 L186.65,303.65 L187.50,303.90 L188.35,308.39 L189.20,302.78 L190.05,306.72 L190.90,303.09 L191.75,305.97 L192.60,302.16 L193.45,303.15 L194.30,306.97 L195.15,303.97 L196.00,300.86 L196.85,307.53 L197.70,307.30 L198.55,301.09 L199.40,306.09 L200.25,303.57 L201.10,304.52 L201.95,303.12 L202.80,305.42 L203.65,306.29 L204.50,305.16 L205.35,302.34 L206.20,308.04 L207.05,304.24 L207.90,304.26 L208.75,305.81 L209.60,306.55 L210.45,304.07 L211.30,305.32 L212.15,309.31 L213.00,304.75 L213.85,303.01 L214.70,306.17 L215.55,309.55 L216.40,303.93 L217.25,309.06 L218.10,307.69 L218.95,304.80 L219.80,304.13 L220.65,303.73 L221.50,305.87 L222.35,308.52 L223.20,311.59 L224.05,306.58 L224.90,303.60 L225.75,304.99 L226.60,306.61 L227.45,304.81 L228.30,304.62 L229.15,306.55 L230.00,306.08 L230.85,302.18 L231.70,308.97 L232.55,306.24 L233.40,305.59 L234.25,306.64 L235.10,307.11 L235.95,303.29 L236.80,302.67 L237.65,305.06 L238.50,309.32 L239.35,301.98 L240.20,309.21 L241.05,306.52 L241.90,308.69 L242.75,307.10 L243.60,304.41 L244.45,306.12 L245.30,306.91 L246.15,301.30 L247.00,304.64 L247.85,308.28 L248.70,306.50 L249.55,304.64 L250.40,301.16 L251.25,305.05 L252.10,301.85 L252.95,302.47 L253.80,304.96 L254.65,299.45 L255.50,302.87 L256.35,302.96 L257.20,300.17 L258.05,301.21 L258.90,302.48 L259.75,299.21 L260.60,301.52 L261.45,301.68 L262.30,299.57 L263.15,297.10 L264.00,295.23 L264.85,301.61 L265.70,299.55 L266.55,296.68 L267.40,301.36 L268.25,297.04 L269.10,297.90 L269.95,293.43 L270.80,300.46 L271.65,295.78 L272.50,292.60 L273.35,294.34 L274.20,300.78 L275.05,298.57 L275.90,295.13 L276.75,296.51 L277.60,302.37 L278.45,292.78 L279.30,293.88 L280.15,300.80 L281.00,293.90 L281.85,295.17 L282.70,297.40 L283.55,295.92 L284.40,293.74 L285.25,293.24 L286.10,294.18 L286.95,296.59 L287.80,294.04 L288.65,294.46 L289.50,290.46 L290.35,296.10 L291.20,293.68 L292.05,292.16 L292.90,291.14 L293.75,294.04 L294.60,286.48 L295.45,291.47 L296.30,293.32 L297.15,288.68 L298.00,290.91 L298.85,291.16 L299.70,292.58 L300.55,287.97 L301.40,289.32 L302.25,292.97 L303.10,290.35 L303.95,287.12 L304.80,289.79 L305.65,289.13 L306.50,285.11 L307.35,287.69 L308.20,285.27 L309.05,289.38 L309.90,283.66 L310.75,289.79 L311.60,284.17 L312.45,285.36 L313.30,285.97 L314.15,283.57 L315.00,282.53 L315.85,284.78 L316.70,281.83 L317.55,284.04 L318.40,286.70 L319.25,282.95 L320.10,282.01 L320.95,285.10 L321.80,280.27 L322.65,282.09 L323.50,283.69 L324.35,281.09 L325.20,281.87 L326.05,278.10 L326.90,281.47 L327.75,275.95 L328.60,280.55 L329.45,279.58 L330.30,273.01 L331.15,275.45 L332.00,274.52 L332.85,275.42 L333.70,272.53 L334.55,273.56 L335.40,271.87 L336.25,271.60 L337.10,266.23 L337.95,268.02 L338.80,269.33 L339.65,269.88 L340.50,262.67 L341.35,269.25 L342.20,270.06 L343.05,264.86 L343.90,266.46 L344.75,264.10 L345.60,265.45 L346.45,266.42 L347.30,261.00 L348.15,265.03 L349.00,265.39 L349.85,260.82 L350.70,260.31 L351.55,261.26 L352.40,270.19 L353.25,262.20 L354.10,266.45 L354.95,265.67 L355.80,262.69 L356.65,264.36 L357.50,266.78 L358.35,262.39 L359.20,261.88 L360.05,262.84 L360.90,267.11 L361.75,265.43 L362.60,266.31 L363.45,267.13 L364.30,261.40 L365.15,266.18 L366.00,260.79 L366.85,262.55 L367.70,264.25 L368.55,262.97 L369.40,264.31 L370.25,262.72 L371.10,267.28 L371.95,259.85 L372.80,264.41 L373.65,264.25 L374.50,261.12 L375.35,263.96 L376.20,266.21 L377.05,263.72 L377.90,263.01 L378.75,260.25 L379.60,264.39 L380.45,262.86 L381.30,260.90 L382.15,260.10 L383.00,262.93 L383.85,256.82 L384.70,260.59 L385.55,259.39 L386.40,259.15 L387.25,256.66 L388.10,259.67 L388.95,256.23 L389.80,258.61 L390.65,255.64 L391.50,258.32 L392.35,257.58 L393.20,252.64 L394.05,257.19 L394.90,253.15 L395.75,245.15 L396.60,250.85 L397.45,251.55 L398.30,252.11 L399.15,252.04 L400.00,251.33 L400.85,248.15 L401.70,253.55 L402.55,249.86 L403.40,244.95 L404.25,252.73 L405.10,251.08 L405.95,247.01 L406.80,248.14 L407.65,252.96 L408.50,249.11 L409.35,247.63 L410.20,250.75 L411.05,249.79 L411.90,248.74 L412.75,249.65 L413.60,253.30 L414.45,252.21 L415.30,251.83 L416.15,255.27 L417.00,257.09 L417.85,257.30 L418.70,255.59 L419.55,259.41 L420.40,259.00 L421.25,258.31 L422.10,262.85 L422.95,264.27 L423.80,261.78 L424.65,269.58 L425.50,263.82 L426.35,265.08 L427.20,270.72 L428.05,266.82 L428.90,272.27 L429.75,273.06 L430.60,270.81 L431.45,270.44 L432.30,276.14 L433.15,274.67 L434.00,279.59 L434.85,274.93 L435.70,273.52 L436.55,280.23 L437.40,274.79 L438.25,272.85 L439.10,279.73 L439.95,281.81 L440.80,276.45 L441.65,278.18 L442.50,278.14 L443.35,279.49 L444.20,278.26 L445.05,277.82 L445.90,275.08 L446.75,282.85 L447.60,276.92 L448.45,277.93 L449.30,278.58 L450.15,279.87 L451.00,277.63 L451.85,279.04 L452.70,282.02 L453.55,278.31 L454.40,279.10 L455.25,282.97 L456.10,279.52 L456.95,280.74 L457.80,281.16 L458.65,278.83 L459.50,279.00 L460.35,280.46 L461.20,280.73 L462.05,279.97 L462.90,282.89 L463.75,280.33 L464.60,281.28 L465.45,284.12 L466.30,283.99 L467.15,280.88 L468.00,279.95 L468.85,282.03 L469.70,284.81 L470.55,279.14 L471.40,284.24 L472.25,281.82 L473.10,282.54 L473.95,279.39 L474.80,281.71 L475.65,283.50 L476.50,278.22 L477.35,283.61 L478.20,282.76 L479.05,279.58 L479.90,281.77 L480.75,283.34 L481.60,279.31 L482.45,277.70 L483.30,278.39 L484.15,281.28 L485.00,277.72 L485.85,284.48 L486.70,281.06 L487.55,280.40 L488.40,279.19 L489.25,280.97 L490.10,281.10 L490.95,277.88 L491.80,277.56 L492.65,283.55 L493.50,277.61 L494.35,276.87 L495.20,275.91 L496.05,281.99 L496.90,282.14 L497.75,276.05 L498.60,276.50 L499.45,282.10 L500.30,274.96 L501.15,277.00 L502.00,280.61 L502.85,278.20 L503.70,276.13 L504.55,279.30 L505.40,280.57 L506.25,276.49 L507.10,275.50 L507.95,280.58 L508.80,277.80 L509.65,279.09 L510.50,280.59 L511.35,278.86 L512.20,271.76 L513.05,280.02 L513.90,279.93 L514.75,280.69 L515.60,276.75 L516.45,281.29 L517.30,278.03 L518.15,279.04 L519.00,279.65 L519.85,275.76" fill="none" stroke="#ff1a1a" stroke-width="0.95" stroke-linejoin="round"/>
<path d="M9.00,345.50 L9.85,342.40 L10.70,342.71 L11.55,342.81 L12.40,340.80 L13.25,340.82 L14.10,340.12 L14.95,339.34 L15.80,337.81 L16.65,340.80 L17.50,338.54 L18.35,337.61 L19.20,340.92 L20.05,337.31 L20.90,340.09 L21.75,343.13 L22.60,344.39 L23.45,345.75 L24.30,344.23 L25.15,344.94 L26.00,348.28 L26.85,345.65 L27.70,345.08 L28.55,346.93 L29.40,346.53 L30.25,346.55 L31.10,344.72 L31.95,344.46 L32.80,344.53 L33.65,347.29 L34.50,345.37 L35.35,344.93 L36.20,345.76 L37.05,344.97 L37.90,343.82 L38.75,344.06 L39.60,343.24 L40.45,344.08 L41.30,343.87 L42.15,342.50 L43.00,343.73 L43.85,342.12 L44.70,341.57 L45.55,341.44 L46.40,342.28 L47.25,341.49 L48.10,345.19 L48.95,341.48 L49.80,343.76 L50.65,345.92 L51.50,343.95 L52.35,345.61 L53.20,346.44 L54.05,344.40 L54.90,345.83 L55.75,347.59 L56.60,346.72 L57.45,347.96 L58.30,346.33 L59.15,346.08 L60.00,349.37 L60.85,346.54 L61.70,348.51 L62.55,347.90 L63.40,349.59 L64.25,347.52 L65.10,348.60 L65.95,347.03 L66.80,348.00 L67.65,348.32 L68.50,346.55 L69.35,348.65 L70.20,347.67 L71.05,349.14 L71.90,348.15 L72.75,347.26 L73.60,348.50 L74.45,348.95 L75.30,347.67 L76.15,349.29 L77.00,347.62 L77.85,348.57 L78.70,349.55 L79.55,347.65 L80.40,349.01 L81.25,349.35 L82.10,351.46 L82.95,350.40 L83.80,351.22 L84.65,351.30 L85.50,353.93 L86.35,353.11 L87.20,352.76 L88.05,354.85 L88.90,353.55 L89.75,355.17 L90.60,356.71 L91.45,355.41 L92.30,354.97 L93.15,355.91 L94.00,356.48 L94.85,356.33 L95.70,358.29 L96.55,356.12 L97.40,356.11 L98.25,357.69 L99.10,357.08 L99.95,356.32 L100.80,357.40 L101.65,356.27 L102.50,356.07 L103.35,357.32 L104.20,355.38 L105.05,356.38 L105.90,356.91 L106.75,356.05 L107.60,352.74 L108.45,356.08 L109.30,353.18 L110.15,352.94 L111.00,351.77 L111.85,352.82 L112.70,351.75 L113.55,349.46 L114.40,352.24 L115.25,348.34 L116.10,350.58 L116.95,350.33 L117.80,349.53 L118.65,350.73 L119.50,348.46 L120.35,349.39 L121.20,349.70 L122.05,348.41 L122.90,347.28 L123.75,350.36 L124.60,347.16 L125.45,347.22 L126.30,349.69 L127.15,347.08 L128.00,348.60 L128.85,348.03 L129.70,347.39 L130.55,350.50 L131.40,347.99 L132.25,348.58 L133.10,350.62 L133.95,346.32 L134.80,350.17 L135.65,348.46 L136.50,347.24 L137.35,349.24 L138.20,348.25 L139.05,346.49 L139.90,350.68 L140.75,349.17 L141.60,349.09 L142.45,346.32 L143.30,348.34 L144.15,348.71 L145.00,346.31 L145.85,345.83 L146.70,348.15 L147.55,346.32 L148.40,346.29 L149.25,348.41 L150.10,347.47 L150.95,347.58 L151.80,345.63 L152.65,349.82 L153.50,346.90 L154.35,350.08 L155.20,346.85 L156.05,349.98 L156.90,351.41 L157.75,347.34 L158.60,351.55 L159.45,350.01 L160.30,351.16 L161.15,351.36 L162.00,349.99 L162.85,353.52 L163.70,351.18 L164.55,351.90 L165.40,354.17 L166.25,354.05 L167.10,353.59 L167.95,354.13 L168.80,354.65 L169.65,356.31 L170.50,354.41 L171.35,354.05 L172.20,358.90 L173.05,355.02 L173.90,355.65 L174.75,357.01 L175.60,358.91 L176.45,355.67 L177.30,359.34 L178.15,355.80 L179.00,357.36 L179.85,358.62 L180.70,356.04 L181.55,358.22 L182.40,357.92 L183.25,356.96 L184.10,359.16 L184.95,358.60 L185.80,357.35 L186.65,359.14 L187.50,357.24 L188.35,359.51 L189.20,358.50 L190.05,358.55 L190.90,358.22 L191.75,358.29 L192.60,359.82 L193.45,359.21 L194.30,358.54 L195.15,360.74 L196.00,357.33 L196.85,358.79 L197.70,361.77 L198.55,359.27 L199.40,360.16 L200.25,360.72 L201.10,360.64 L201.95,358.41 L202.80,359.71 L203.65,359.35 L204.50,359.28 L205.35,360.63 L206.20,360.59 L207.05,359.40 L207.90,360.11 L208.75,360.14 L209.60,361.26 L210.45,357.77 L211.30,363.88 L212.15,361.63 L213.00,359.71 L213.85,359.56 L214.70,360.98 L215.55,360.59 L216.40,360.23 L217.25,361.83 L218.10,362.71 L218.95,360.77 L219.80,362.68 L220.65,361.70 L221.50,361.10 L222.35,361.12 L223.20,362.05 L224.05,361.96 L224.90,361.07 L225.75,361.56 L226.60,361.93 L227.45,360.49 L228.30,362.91 L229.15,361.06 L230.00,360.69 L230.85,361.18 L231.70,359.31 L232.55,361.84 L233.40,361.74 L234.25,360.43 L235.10,359.43 L235.95,362.32 L236.80,361.57 L237.65,363.12 L238.50,361.61 L239.35,358.07 L240.20,363.36 L241.05,359.86 L241.90,360.50 L242.75,361.47 L243.60,359.22 L244.45,360.16 L245.30,360.72 L246.15,358.93 L247.00,360.67 L247.85,360.51 L248.70,360.05 L249.55,357.15 L250.40,360.72 L251.25,356.35 L252.10,359.38 L252.95,359.41 L253.80,357.53 L254.65,358.32 L255.50,359.77 L256.35,357.51 L257.20,358.70 L258.05,355.79 L258.90,358.78 L259.75,357.82 L260.60,357.83 L261.45,356.04 L262.30,357.02 L263.15,358.05 L264.00,358.20 L264.85,354.67 L265.70,357.10 L266.55,355.62 L267.40,355.72 L268.25,355.45 L269.10,355.59 L269.95,355.39 L270.80,358.28 L271.65,354.08 L272.50,355.37 L273.35,356.34 L274.20,354.47 L275.05,354.07 L275.90,356.38 L276.75,354.79 L277.60,353.70 L278.45,354.76 L279.30,355.15 L280.15,352.55 L281.00,352.64 L281.85,355.51 L282.70,353.72 L283.55,352.22 L284.40,353.09 L285.25,353.34 L286.10,352.86 L286.95,351.13 L287.80,354.28 L288.65,351.40 L289.50,351.52 L290.35,353.06 L291.20,350.95 L292.05,353.09 L292.90,352.11 L293.75,349.68 L294.60,350.04 L295.45,350.16 L296.30,351.29 L297.15,349.33 L298.00,349.12 L298.85,350.92 L299.70,349.63 L300.55,351.62 L301.40,348.10 L302.25,350.02 L303.10,346.40 L303.95,351.29 L304.80,348.36 L305.65,347.47 L306.50,349.39 L307.35,347.84 L308.20,348.65 L309.05,347.98 L309.90,347.21 L310.75,348.27 L311.60,346.49 L312.45,344.97 L313.30,348.50 L314.15,347.47 L315.00,344.15 L315.85,348.43 L316.70,346.24 L317.55,345.03 L318.40,345.12 L319.25,346.27 L320.10,343.75 L320.95,344.20 L321.80,345.14 L322.65,343.22 L323.50,344.29 L324.35,343.87 L325.20,341.79 L326.05,341.28 L326.90,341.23 L327.75,342.12 L328.60,341.58 L329.45,340.62 L330.30,340.32 L331.15,338.61 L332.00,339.40 L332.85,338.36 L333.70,337.80 L334.55,337.95 L335.40,338.21 L336.25,336.54 L337.10,338.35 L337.95,336.18 L338.80,335.46 L339.65,336.14 L340.50,336.24 L341.35,334.49 L342.20,336.84 L343.05,334.69 L343.90,333.61 L344.75,336.12 L345.60,334.97 L346.45,335.17 L347.30,334.92 L348.15,333.74 L349.00,334.19 L349.85,333.58 L350.70,333.52 L351.55,335.28 L352.40,331.79 L353.25,334.24 L354.10,334.12 L354.95,332.49 L355.80,334.32 L356.65,333.23 L357.50,332.16 L358.35,332.66 L359.20,333.59 L360.05,333.73 L360.90,331.78 L361.75,334.00 L362.60,332.68 L363.45,332.91 L364.30,332.61 L365.15,331.22 L366.00,332.63 L366.85,333.47 L367.70,332.10 L368.55,332.40 L369.40,333.04 L370.25,333.98 L371.10,330.72 L371.95,333.50 L372.80,332.93 L373.65,332.45 L374.50,333.80 L375.35,332.47 L376.20,331.27 L377.05,332.99 L377.90,332.71 L378.75,331.57 L379.60,333.93 L380.45,331.22 L381.30,330.03 L382.15,333.34 L383.00,330.12 L383.85,330.64 L384.70,331.75 L385.55,328.36 L386.40,331.28 L387.25,330.54 L388.10,329.32 L388.95,329.57 L389.80,329.54 L390.65,327.02 L391.50,331.81 L392.35,328.69 L393.20,328.25 L394.05,327.98 L394.90,328.45 L395.75,327.92 L396.60,326.49 L397.45,327.08 L398.30,325.58 L399.15,326.09 L400.00,325.37 L400.85,326.48 L401.70,323.47 L402.55,323.45 L403.40,327.25 L404.25,323.25 L405.10,323.37 L405.95,326.22 L406.80,323.29 L407.65,322.53 L408.50,324.59 L409.35,324.58 L410.20,323.91 L411.05,323.82 L411.90,323.68 L412.75,326.17 L413.60,325.96 L414.45,323.56 L415.30,324.89 L416.15,326.60 L417.00,326.10 L417.85,326.62 L418.70,330.14 L419.55,330.38 L420.40,328.89 L421.25,333.12 L422.10,332.48 L422.95,334.25 L423.80,334.28 L424.65,335.83 L425.50,335.06 L426.35,337.36 L427.20,337.81 L428.05,337.98 L428.90,339.46 L429.75,338.70 L430.60,339.72 L431.45,340.29 L432.30,343.55 L433.15,341.01 L434.00,340.42 L434.85,344.61 L435.70,341.80 L436.55,344.04 L437.40,341.61 L438.25,344.36 L439.10,344.97 L439.95,341.97 L440.80,343.91 L441.65,342.97 L442.50,342.95 L443.35,344.95 L444.20,346.31 L445.05,343.57 L445.90,344.73 L446.75,347.27 L447.60,345.61 L448.45,345.33 L449.30,344.69 L450.15,346.58 L451.00,344.60 L451.85,346.61 L452.70,346.95 L453.55,346.22 L454.40,343.83 L455.25,345.79 L456.10,346.38 L456.95,345.44 L457.80,347.03 L458.65,346.14 L459.50,344.80 L460.35,347.94 L461.20,346.48 L462.05,345.61 L462.90,345.49 L463.75,347.14 L464.60,344.92 L465.45,345.78 L466.30,347.00 L467.15,347.72 L468.00,347.17 L468.85,345.15 L469.70,347.54 L470.55,347.08 L471.40,347.65 L472.25,348.55 L473.10,345.02 L473.95,348.95 L474.80,348.06 L475.65,345.91 L476.50,345.99 L477.35,347.44 L478.20,346.80 L479.05,347.49 L479.90,347.61 L480.75,347.66 L481.60,346.49 L482.45,346.33 L483.30,348.60 L484.15,345.46 L485.00,345.95 L485.85,346.82 L486.70,348.26 L487.55,345.91 L488.40,349.64 L489.25,345.66 L490.10,345.79 L490.95,347.82 L491.80,348.05 L492.65,345.28 L493.50,346.54 L494.35,346.72 L495.20,347.64 L496.05,345.06 L496.90,348.30 L497.75,347.91 L498.60,345.11 L499.45,346.51 L500.30,348.94 L501.15,344.94 L502.00,345.67 L502.85,346.12 L503.70,347.34 L504.55,345.61 L505.40,347.40 L506.25,345.04 L507.10,346.09 L507.95,345.89 L508.80,346.78 L509.65,346.54 L510.50,344.86 L511.35,347.30 L512.20,346.44 L513.05,345.60 L513.90,346.53 L514.75,345.23 L515.60,345.26 L516.45,345.96 L517.30,346.40 L518.15,345.49 L519.00,344.86 L519.85,345.71" fill="none" stroke="#222222" stroke-width="0.95" stroke-linejoin="round"/>
<rect x="8.1" y="6.9" width="512.4" height="375.7" fill="none" stroke="#000" stroke-width="1.45"/>
<g stroke="#000" stroke-width="1.45">
<line x1="35.07" y1="382.6" x2="35.07" y2="375.40000000000003"/>
<line x1="89.01" y1="382.6" x2="89.01" y2="375.40000000000003"/>
<line x1="142.95" y1="382.6" x2="142.95" y2="375.40000000000003"/>
<line x1="196.89" y1="382.6" x2="196.89" y2="375.40000000000003"/>
<line x1="250.83" y1="382.6" x2="250.83" y2="375.40000000000003"/>
<line x1="304.77" y1="382.6" x2="304.77" y2="375.40000000000003"/>
<line x1="358.71" y1="382.6" x2="358.71" y2="375.40000000000003"/>
<line x1="412.65" y1="382.6" x2="412.65" y2="375.40000000000003"/>
<line x1="466.59" y1="382.6" x2="466.59" y2="375.40000000000003"/>
<line x1="520.53" y1="382.6" x2="520.53" y2="375.40000000000003"/>
<line x1="62.04" y1="382.6" x2="62.04" y2="379.0"/>
<line x1="115.98" y1="382.6" x2="115.98" y2="379.0"/>
<line x1="169.92" y1="382.6" x2="169.92" y2="379.0"/>
<line x1="223.86" y1="382.6" x2="223.86" y2="379.0"/>
<line x1="277.80" y1="382.6" x2="277.80" y2="379.0"/>
<line x1="331.74" y1="382.6" x2="331.74" y2="379.0"/>
<line x1="385.68" y1="382.6" x2="385.68" y2="379.0"/>
<line x1="439.62" y1="382.6" x2="439.62" y2="379.0"/>
<line x1="493.56" y1="382.6" x2="493.56" y2="379.0"/>
</g>
<g font-size="22">
<text transform="translate(35.07,408.8) scale(1,1.04)" text-anchor="middle">200</text>
<text transform="translate(89.01,408.8) scale(1,1.04)" text-anchor="middle">400</text>
<text transform="translate(142.95,408.8) scale(1,1.04)" text-anchor="middle">600</text>
<text transform="translate(196.89,408.8) scale(1,1.04)" text-anchor="middle">800</text>
<text transform="translate(250.83,408.8) scale(1,1.04)" text-anchor="middle">1000</text>
<text transform="translate(304.77,408.8) scale(1,1.04)" text-anchor="middle">1200</text>
<text transform="translate(358.71,408.8) scale(1,1.04)" text-anchor="middle">1400</text>
<text transform="translate(412.65,408.8) scale(1,1.04)" text-anchor="middle">1600</text>
<text transform="translate(466.59,408.8) scale(1,1.04)" text-anchor="middle">1800</text>
<text transform="translate(520.53,408.8) scale(1,1.04)" text-anchor="middle">2000</text>
</g>
<text x="162.5" y="446" font-size="29">Raman shift (cm</text>
<text x="356" y="436" font-size="26" stroke="#000" stroke-width="0.7">-</text>
<text transform="translate(367.3,436) scale(0.85,1.07)" font-size="26">1</text>
<text x="380.5" y="446" font-size="29">)</text>
</svg>
</body></html>
